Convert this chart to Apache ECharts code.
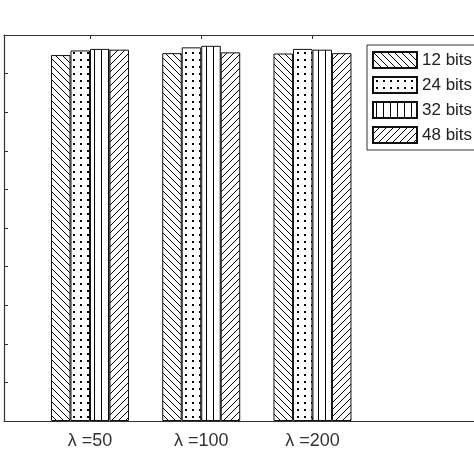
<!DOCTYPE html>
<html>
<head>
<meta charset="utf-8">
<script src="https://cdn.jsdelivr.net/npm/echarts@6/dist/echarts.min.js"></script>
<style>
    html, body { margin: 0; padding: 0; background: #fff; }
    #chart { width: 474px; height: 474px; }
</style>
</head>
<body>
<div id="chart"></div>
<script>
// group labels and their positions on the x axis
const categories = ['\u03bb =50', '\u03bb =100', '\u03bb =200'];
const positions = [1, 2, 3];
const seriesNames = ['12 bits', '24 bits', '32 bits', '48 bits'];

// bar heights
const bits12 = [0.948, 0.953, 0.952];
const bits24 = [0.960, 0.968, 0.964];
const bits32 = [0.964, 0.972, 0.962];
const bits48 = [0.962, 0.955, 0.953];

const yTicks = 0.1;

function tile(w, h, draw) {
    const c = document.createElement('canvas');
    c.width = w;
    c.height = h;
    const ctx = c.getContext('2d');
    ctx.fillStyle = '#fff';
    ctx.fillRect(0, 0, w, h);
    ctx.strokeStyle = '#000';
    ctx.fillStyle = '#000';
    ctx.lineWidth = 1;
    draw(ctx, w, h);
    return { image: c, repeat: 'repeat' };
}

// hatch fills: \\\ , dots, |||, ///
const patterns = [
    tile(7, 7, (ctx, w, h) => {
        ctx.beginPath();
        ctx.moveTo(-1, -1); ctx.lineTo(w + 1, h + 1);
        ctx.moveTo(-1, h - 1); ctx.lineTo(1, h + 1);
        ctx.moveTo(w - 1, -1); ctx.lineTo(w + 1, 1);
        ctx.stroke();
    }),
    tile(7, 7, (ctx) => {
        ctx.fillRect(3, 3, 2, 2);
    }),
    tile(7, 4, (ctx) => {
        ctx.fillRect(3, 0, 1, 4);
    }),
    tile(7, 7, (ctx, w, h) => {
        ctx.beginPath();
        ctx.moveTo(-1, h + 1); ctx.lineTo(w + 1, -1);
        ctx.moveTo(-1, 1); ctx.lineTo(1, -1);
        ctx.moveTo(w - 1, h + 1); ctx.lineTo(w + 1, h - 1);
        ctx.stroke();
    }),
];

const values = [bits12, bits24, bits32, bits48];

const chart = echarts.init(document.getElementById('chart'));

const axisColor = '#333';
const xMin = 0.227;
const xMax = 4.452;

chart.setOption({
    animation: false,
    backgroundColor: '#fff',
    textStyle: { fontFamily: 'Liberation Sans, Arial, sans-serif' },
    grid: { left: 4, right: 0, top: 35, bottom: 53, containLabel: false },
    legend: {
        data: seriesNames,
        orient: 'vertical',
        icon: 'rect',
        left: 367,
        top: 45,
        itemWidth: 44,
        itemHeight: 16,
        itemGap: 7,
        padding: [6, 30, 6, 5],
        borderColor: axisColor,
        borderWidth: 1,
        backgroundColor: '#fff',
        textStyle: { fontSize: 17, color: '#222' },
    },
    xAxis: [
        {
            type: 'value',
            min: xMin,
            max: xMax,
            position: 'bottom',
            splitLine: { show: false },
            axisLine: { lineStyle: { color: axisColor, width: 1.2 } },
            axisTick: { show: true, inside: true, length: 4, customValues: positions,
                lineStyle: { color: axisColor } },
            axisLabel: {
                customValues: positions,
                formatter: (v) => categories[positions.indexOf(Math.round(v))] || '',
                fontSize: 18,
                color: '#333',
                margin: 11,
            },
        },
        {
            type: 'value',
            min: xMin,
            max: xMax,
            position: 'top',
            splitLine: { show: false },
            axisLine: { onZero: false, lineStyle: { color: axisColor, width: 1.2 } },
            axisTick: { show: true, inside: true, length: 4, customValues: positions,
                lineStyle: { color: axisColor } },
            axisLabel: { show: false },
        },
    ],
    yAxis: {
        type: 'value',
        min: 0,
        max: 1,
        interval: yTicks,
        splitLine: { show: false },
        axisLine: { show: true, lineStyle: { color: axisColor, width: 1.2 } },
        axisTick: { show: true, inside: true, length: 4, lineStyle: { color: axisColor } },
        axisLabel: { show: false },
    },
    series: seriesNames.map((name, i) => ({
        name: name,
        type: 'bar',
        xAxisIndex: 0,
        barWidth: 19.5,
        barGap: '0%',
        itemStyle: { color: patterns[i], borderColor: '#111', borderWidth: 1 },
        data: positions.map((p, j) => [p, values[i][j]]),
    })),
});
</script>
</body>
</html>
